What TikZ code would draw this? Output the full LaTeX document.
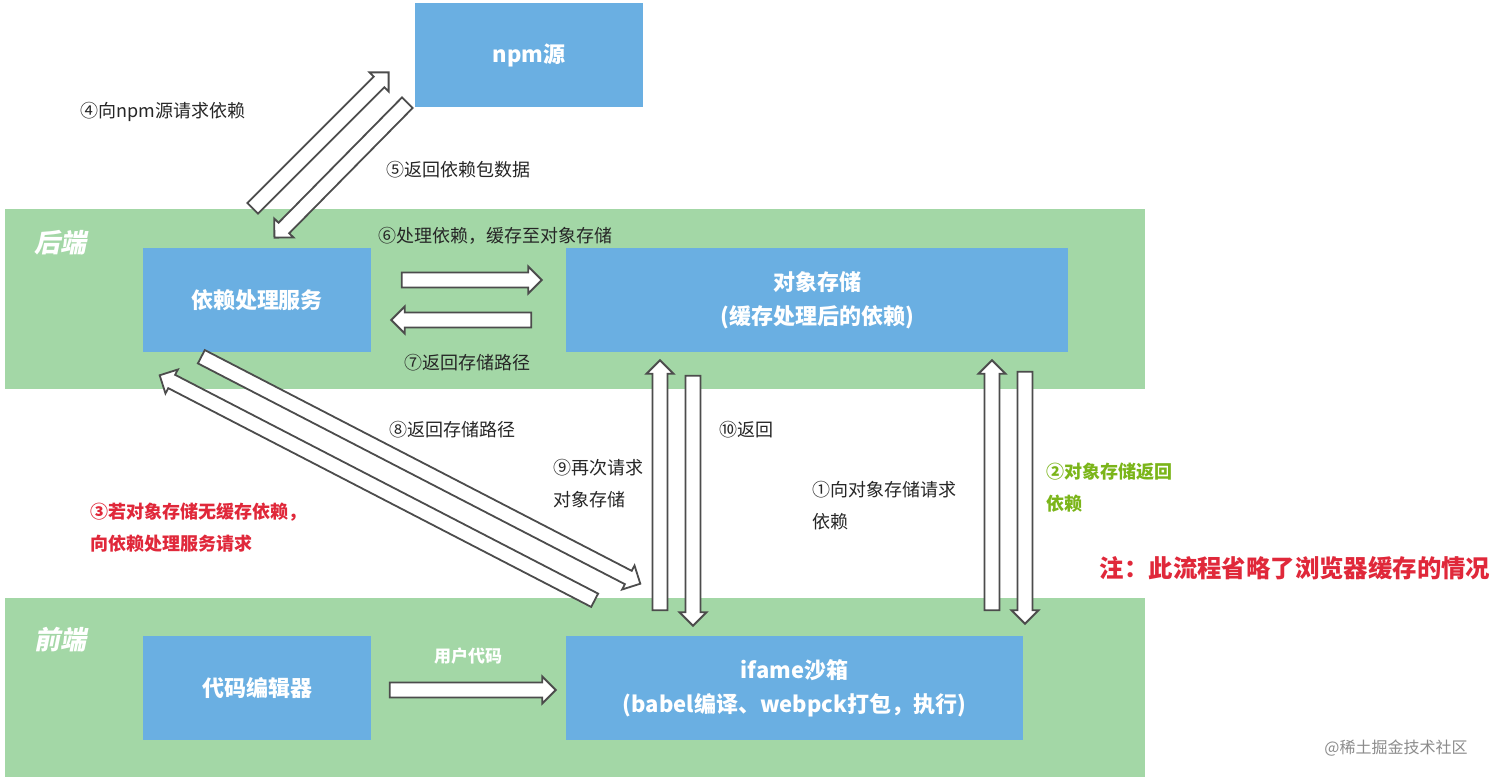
\documentclass[tikz,border=0pt]{standalone}
\usepackage{fontspec}
\setmainfont{Noto Sans CJK SC}
\usetikzlibrary{shapes.arrows,calc}
\definecolor{band}{HTML}{A3D7A6}
\definecolor{boxc}{HTML}{6AAFE2}
\definecolor{redc}{HTML}{E0283A}
\definecolor{grnc}{HTML}{7BB51A}
\tikzset{
  band/.style={fill=band,draw=none,anchor=north west,inner sep=0,minimum width=#1},
  blue/.style={fill=boxc,draw=none,text=white,font=\bfseries\fontsize{11}{17}\selectfont,align=center,inner sep=0},
  harrow/.style={single arrow,draw=black!70,fill=white,line width=0.9pt,minimum width=13pt,single arrow head extend=3pt,single arrow tip angle=90,inner xsep=0,inner ysep=3.3pt},
  lbl/.style={font=\fontsize{9}{16}\selectfont,text=black!85,align=left,inner sep=0},
  side/.style={text=white,font=\bfseries\fontsize{13}{15}\selectfont,inner sep=0,xslant=0.2}
}
\newcommand\harr[2]{\path let \p1=(#1), \p2=(#2), \n1={atan2(\y2-\y1,\x2-\x1)}, \n2={veclen(\x2-\x1,\y2-\y1)} in node[harrow,minimum height=\n2,rotate=\n1] at ($(\p1)!0.5!(\p2)$) {};}
\begin{document}
\begin{tikzpicture}[x=0.5pt,y=-0.5pt]
\useasboundingbox[fill=white] (0,0) rectangle (1512,781);
\fill[band] (5,209) rectangle (1145,389);
\fill[band] (5,598) rectangle (1145,777);
\node[side] (be) at (62,243) {后端};
\node[side] (fe) at (62,640) {前端};
\node[blue,minimum width=114pt,minimum height=52pt] (npm) at (529,55) {npm源};
\node[blue,minimum width=114pt,minimum height=51.5pt] (dep) at (257,300) {依赖处理服务};
\node[blue,minimum width=251pt,minimum height=51.5pt] (obj) at (817,300) {对象存储\\(缓存处理后的依赖)};
\node[blue,minimum width=114pt,minimum height=52pt] (ed) at (257,688) {代码编辑器};
\node[blue,minimum width=228.5pt,minimum height=52pt] (ifr) at (794.5,688) {ifame沙箱\\(babel编译、webpck打包，执行)};
\coordinate (a4s) at (250,211); \coordinate (a4e) at (386,75);
\coordinate (a5s) at (410,100); \coordinate (a5e) at (277,235);
\coordinate (a6s) at (398,280); \coordinate (a6e) at (538,280);
\coordinate (a7s) at (535,320); \coordinate (a7e) at (395,320);
\coordinate (a3s) at (598,602); \coordinate (a3e) at (163,377);
\coordinate (a8s) at (198,355); \coordinate (a8e) at (637,582);
\coordinate (a9s) at (660,614); \coordinate (a9e) at (660,364);
\coordinate (a10s) at (693,372); \coordinate (a10e) at (693,622);
\coordinate (a1s) at (992,614); \coordinate (a1e) at (992,364);
\coordinate (a2s) at (1025,368); \coordinate (a2e) at (1025,620);
\coordinate (aus) at (386,690); \coordinate (aue) at (552,690);
\harr{a4s}{a4e}\harr{a5s}{a5e}\harr{a6s}{a6e}\harr{a7s}{a7e}
\harr{a3s}{a3e}\harr{a8s}{a8e}\harr{a9s}{a9e}\harr{a10s}{a10e}
\harr{a1s}{a1e}\harr{a2s}{a2e}\harr{aus}{aue}
\node[lbl] (t4) at (163,112) {④向npm源请求依赖};
\node[lbl] (t5) at (458,170) {⑤返回依赖包数据};
\node[lbl] (t6) at (495,236) {⑥处理依赖，缓存至对象存储};
\node[lbl] (t7) at (467,363) {⑦返回存储路径};
\node[lbl] (t8) at (452,430) {⑧返回存储路径};
\node[lbl,anchor=west] (t9) at (553,484) {⑨再次请求\\对象存储};
\node[lbl] (t10) at (746,430) {⑩返回};
\node[lbl,anchor=west] (t1) at (812,506) {①向对象存储请求\\依赖};
\node[lbl,anchor=west,text=grnc,font=\bfseries\fontsize{9}{16}\selectfont] (t2) at (1046,488) {②对象存储返回\\依赖};
\node[lbl,anchor=west,text=redc,font=\bfseries\fontsize{9}{16}\selectfont] (t3) at (90,528) {③若对象存储无缓存依赖，\\向依赖处理服务请求};
\node[lbl,text=redc,font=\bfseries\fontsize{12.2}{14}\selectfont] (note) at (1295,568) {注：此流程省略了浏览器缓存的情况};
\node[lbl,text=white,font=\bfseries\fontsize{8.5}{10}\selectfont] (tu) at (468,656) {用户代码};
\node[lbl,text=black!45,font=\fontsize{8}{10}\selectfont] (wm) at (1396,748) {@稀土掘金技术社区};
\end{tikzpicture}
\end{document}
